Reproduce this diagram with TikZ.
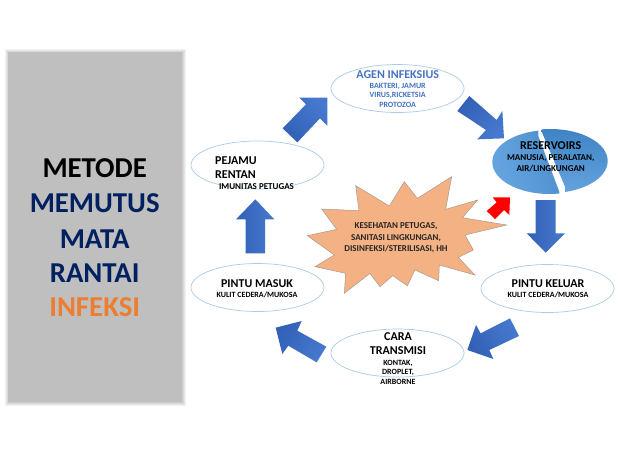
\documentclass[tikz,border=0pt]{standalone}
\usepackage{fontspec}
\setmainfont{Carlito}
\usetikzlibrary{shapes.geometric}
\definecolor{panelgray}{HTML}{BFBFBF}
\definecolor{navy}{HTML}{002060}
\definecolor{orangetxt}{HTML}{ED7D31}
\definecolor{ringline}{HTML}{A9CBE6}
\definecolor{agenblue}{HTML}{4472C4}
\definecolor{stardark}{HTML}{A89A90}
\definecolor{starfill}{HTML}{F4B183}
\definecolor{arrowdark}{HTML}{3261B6}
\definecolor{arrowlight}{HTML}{4679CE}
\definecolor{reslight}{HTML}{64A3DF}
\definecolor{resdark}{HTML}{3E84C4}
\tikzset{
  ring/.style={ellipse,draw=ringline,line width=0.7pt,fill=white,minimum width=133pt,minimum height=48pt,inner sep=0pt},
  head/.style={anchor=base,inner sep=0pt,font=\fontsize{12}{14}\selectfont\bfseries},
  small/.style={anchor=base,inner sep=0pt,font=\fontsize{8}{9}\selectfont\bfseries},
  midtxt/.style={anchor=base,inner sep=0pt,font=\fontsize{9}{10}\selectfont\bfseries},
  big/.style={anchor=base,inner sep=0pt,font=\fontsize{28.8}{30}\selectfont\bfseries},
  blockarrow/.style={left color=arrowdark,right color=arrowlight,shading angle=#1,draw=none},
}
\begin{document}
\begin{tikzpicture}[x=1pt,y=-1pt]
\useasboundingbox (0,0) rectangle (638,451);
\fill[white] (0,0) rectangle (638,451);
% panel with soft shadow
\foreach \g in {4,3,2,1}{
  \fill[black,opacity=0.05] (8-\g+1,52-\g+1) rectangle (182+\g,402+\g);
}
\fill[panelgray] (8,52) rectangle (182,402);
\node[big,text=black] (t1) at (94.7,177.2) {METODE};
\node[big,text=navy] (t2) at (94.7,212.2) {MEMUTUS};
\node[big,text=navy] (t3) at (94.7,248.2) {MATA};
\node[big,text=navy] (t4) at (94.7,282.2) {RANTAI};
\node[big,text=orangetxt] (t5) at (94.7,316.9) {INFEKSI};
% ellipses
\node[ring] (agen) at (397.5,88.5) {};
\node[ring] (pejamu) at (257.5,165) {};
\node[ring] (masuk) at (257.5,287.5) {};
\node[ring] (keluar) at (547.5,288.5) {};
\node[ring] (cara) at (397.5,353) {};
% reservoir, two pieces
\begin{scope}
  \clip (480,120) -- (538.3,120) -- (538.3,136) -- (559.3,191.7) -- (559.3,205) -- (480,205) -- cycle;
  \shade[left color=reslight,right color=resdark,shading angle=110] (549.5,162) ellipse [x radius=57.2,y radius=32];
\end{scope}
\begin{scope}
  \clip (541.7,120) -- (620,120) -- (620,205) -- (565,205) -- (565,186.7) -- (541.7,131.7) -- cycle;
  \shade[top color=resdark,bottom color=reslight] (550.5,161) ellipse [x radius=57.2,y radius=32];
\end{scope}
% block arrows
\begin{scope}[shift={(270,85)},x=0.33333pt,y=-0.33333pt]
  \shade[blockarrow=135] (172,38) -- (88,38) -- (108,58) -- (38,130) -- (82,172) -- (150,100) -- (172,122) -- cycle;
\end{scope}
\begin{scope}[shift={(450,85)},x=0.33333pt,y=-0.33333pt]
  \shade[blockarrow=45] (22,78) -- (58,33) -- (140,105) -- (157,78) -- (162,160) -- (82,163) -- (108,135) -- cycle;
  \fill[red] (180,337) -- (128,337) -- (140,352) -- (110,378) -- (135,402) -- (162,375) -- (178,390) -- cycle;
  \shade[blockarrow=90] (257,345) -- (317,345) -- (317,445) -- (345,445) -- (287,503) -- (230,445) -- (257,445) -- cycle;
\end{scope}
\begin{scope}[shift={(180,130)},x=0.33333pt,y=-0.33333pt]
  \shade[blockarrow=90] (226,208) -- (283,268) -- (255,268) -- (255,370) -- (197,370) -- (197,268) -- (168,268) -- cycle;
\end{scope}
\begin{scope}[shift={(260,260)},x=0.33333pt,y=-0.33333pt]
  \shade[blockarrow=120] (622,270) -- (648,195) -- (662,220) -- (750,175) -- (777,228) -- (688,270) -- (700,297) -- cycle;
  \shade[blockarrow=60] (47,203) -- (125,183) -- (112,212) -- (199,260) -- (170,307) -- (85,257) -- (67,282) -- cycle;
\end{scope}
% star
\begin{scope}[shift={(300,170)},x=0.33333pt,y=-0.33333pt]
  \filldraw[fill=starfill,draw=stardark,line width=0.5pt,line join=miter]
  (22,197) -- (110,178) -- (65,117) -- (177,122) -- (167,47) -- (268,108) -- (313,35) -- (352,85) -- (455,20) -- (437,118) -- (533,90) -- (487,143) -- (620,165) -- (495,195) -- (520,240) -- (475,262) -- (525,315) -- (418,285) -- (416,332) -- (345,300) -- (322,347) -- (278,317) -- (240,350) -- (210,310) -- (133,370) -- (137,310) -- (45,290) -- (103,255) -- cycle;
\end{scope}
% texts
\node[head,text=agenblue] (a1) at (397.7,78) {AGEN INFEKSIUS};
\node[small,text=agenblue] (a2) at (397.7,88.3) {BAKTERI, JAMUR};
\node[small,text=agenblue] (a3) at (397.7,97.9) {VIRUS,RICKETSIA};
\node[small,text=agenblue] (a4) at (397.7,107.6) {PROTOZOA};
\node[head,text=black] (r1) at (550.7,149) {RESERVOIRS};
\node[midtxt,text=black] (r2) at (550.7,160.6) {MANUSIA, PERALATAN,};
\node[midtxt,text=black] (r3) at (550.7,171.9) {AIR/LINGKUNGAN};
\node[head,anchor=base west,text=black] (p1) at (215,164) {PEJAMU};
\node[head,anchor=base west,text=black] (p2) at (215,178) {RENTAN};
\node[midtxt,text=black] (p3) at (256.5,189.8) {IMUNITAS PETUGAS};
\node[head,text=black] (m1) at (257,287) {PINTU MASUK};
\node[small,text=black] (m2) at (257,297.6) {KULIT CEDERA/MUKOSA};
\node[head,text=black] (k1) at (548,287) {PINTU KELUAR};
\node[small,text=black] (k2) at (548,297.6) {KULIT CEDERA/MUKOSA};
\node[head,text=black] (c1) at (398,340) {CARA};
\node[head,text=black] (c2) at (398,354.7) {TRANSMISI};
\node[small,text=black] (c3) at (398,365.3) {KONTAK,};
\node[small,text=black] (c4) at (398,374.6) {DROPLET,};
\node[small,text=black] (c5) at (398,384.3) {AIRBORNE};
\node[midtxt,text=black!85] (s1) at (396,228.9) {KESEHATAN PETUGAS,};
\node[midtxt,text=black!85] (s2) at (396,240.4) {SANITASI LINGKUNGAN,};
\node[midtxt,text=black!85] (s3) at (396,251.9) {DISINFEKSI/STERILISASI, HH};
\end{tikzpicture}
\end{document}
